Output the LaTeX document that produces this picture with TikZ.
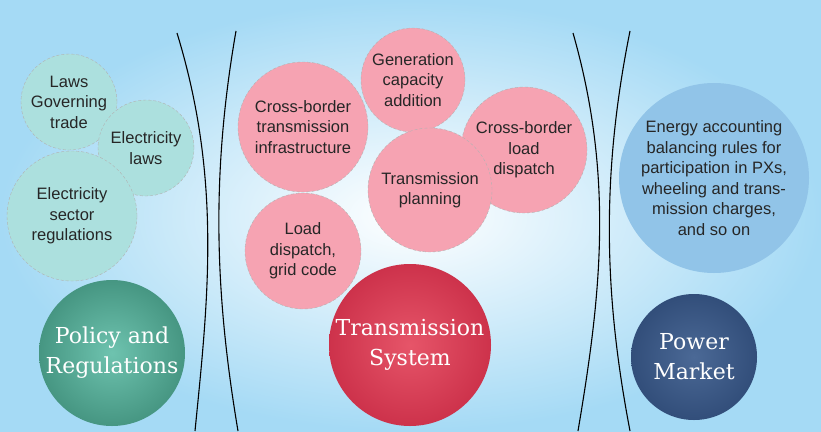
\documentclass[tikz,border=0pt]{standalone}
\usepackage{fontspec}
\setmainfont{Liberation Sans}
\newfontfamily\slab{DejaVu Serif}
\begin{document}
\begin{tikzpicture}[x=1pt,y=-1pt,
  sm/.style={circle,draw=gray!60,densely dashed,align=center,font=\fontsize{16.5}{20.5}\selectfont,text=black!85,inner sep=0pt},
  tealc/.style={sm,fill={rgb,255:red,172;green,224;blue,222}},
  pinkc/.style={sm,fill={rgb,255:red,246;green,163;blue,178}},
  bigc/.style={circle,align=center,text=white,font=\slab\fontsize{22}{30}\selectfont,inner sep=0pt}]
\useasboundingbox (0,0) rectangle (821,431);
\shade[inner color=white,outer color={rgb,255:red,165;green,218;blue,245}] (0,0) rectangle (821,431);
\node[tealc,minimum size=96] (laws) at (69,102) {Laws\\Governing\\trade};
\node[tealc,minimum size=96] (elaw) at (146,148) {Electricity\\laws};
\node[tealc,minimum size=130] (reg) at (72,216) {Electricity\\sector\\regulations};
\node[bigc,minimum size=146,inner color={rgb,255:red,110;green,195;blue,175},outer color={rgb,255:red,70;green,150;blue,130}] (pol) at (112,353) {Policy and\\Regulations};
\node[pinkc,minimum size=130] (cbt) at (303,127) {Cross-border\\transmission\\infrastructure};
\node[pinkc,minimum size=116] (ld) at (303,251) {Load\\dispatch,\\grid code};
\node[pinkc,minimum size=104] (gen) at (413,80) {Generation\\capacity\\addition};
\node[pinkc,minimum size=126] (cbl) at (524,150) {Cross-border\\load\\dispatch};
\node[pinkc,minimum size=124] (tp) at (430,190) {Transmission\\planning};
\node[bigc,minimum size=162,inner color={rgb,255:red,230;green,85;blue,105},outer color={rgb,255:red,205;green,50;blue,75}] (ts) at (410,345) {Transmission\\System};
\node[sm,draw=none,fill={rgb,255:red,145;green,196;blue,232},minimum size=190] (ea) at (714,178) {Energy accounting\\balancing rules for\\participation in PXs,\\wheeling and trans-\\mission charges,\\and so on};
\node[bigc,minimum size=126,inner color={rgb,255:red,75;green,105;blue,150},outer color={rgb,255:red,50;green,78;blue,122}] (pm) at (694,357) {Power\\Market};
\coordinate (a1) at (177,33); \coordinate (a2) at (195,431);
\coordinate (b1) at (236,31); \coordinate (b2) at (238,431);
\coordinate (c1) at (573,33); \coordinate (c2) at (578,431);
\coordinate (d1) at (630,31); \coordinate (d2) at (630,431);
\draw[line width=1.1] (a1) .. controls (222,180) and (208,300) .. (a2);
\draw[line width=1.1] (b1) .. controls (210,180) and (216,300) .. (b2);
\draw[line width=1.1] (c1) .. controls (615,180) and (600,300) .. (c2);
\draw[line width=1.1] (d1) .. controls (600,180) and (605,300) .. (d2);
\end{tikzpicture}
\end{document}
